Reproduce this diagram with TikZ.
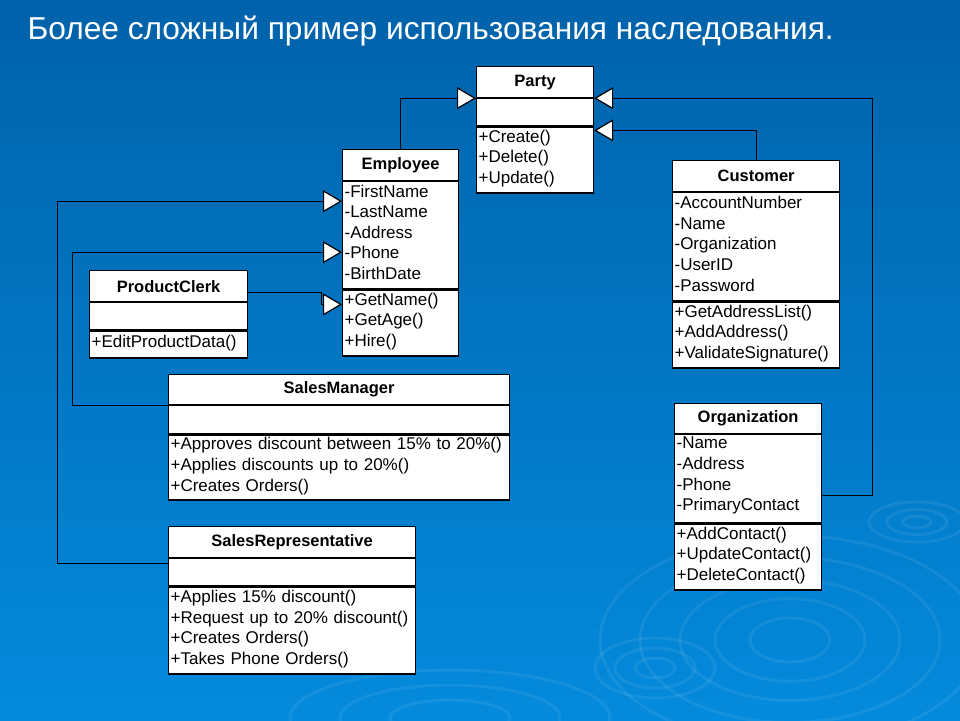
\documentclass[tikz,border=0pt]{standalone}
\usepackage{fontspec}
\setmainfont{Liberation Sans}
\usetikzlibrary{arrows.meta}
\definecolor{slidetop}{RGB}{0,98,170}
\definecolor{slidebot}{RGB}{4,138,220}
\begin{document}
\begin{tikzpicture}[x=1pt,y=-1pt,
    hd/.style={draw,fill=white,line width=1.2pt,anchor=north west,inner sep=0pt,
      minimum height=31pt,font=\bfseries\fontsize{16.5}{20.6}\selectfont},
    box/.style={draw,fill=white,line width=1.2pt,anchor=north west,align=left,
      inner xsep=2pt,inner ysep=0pt,font=\fontsize{17}{20.6}\selectfont},
    sec/.style={box,execute at end node={\endgraf\vspace{6pt}}},
    msec/.style={box,execute at end node={\endgraf\vspace{3pt}}},
    inh/.style={draw=black,line width=0.7pt,
      -{Triangle[length=19pt,width=22pt,fill=white,line width=1.2pt]}},
    ripple/.style={draw=white,opacity=0.07,line width=3pt}]
        \useasboundingbox (0,0) rectangle (960,720);
        \shade[top color=slidetop,bottom color=slidebot] (0,0) rectangle (960,720);

        % background ripples
        \foreach \r in {14,30,48} \draw[ripple] (917,522) ellipse ({\r} and {0.42*\r});
        \foreach \r in {40,75,110,150,190} \draw[ripple] (790,640) ellipse ({\r} and {0.55*\r});
        \foreach \r in {20,40,60} \draw[ripple] (655,668) ellipse ({\r} and {0.5*\r});
        \foreach \r in {60,110,160} \draw[ripple] (450,718) ellipse ({\r} and {0.3*\r});

        \node[anchor=base west,text=white,font=\fontsize{31.7}{36}\selectfont] (title) at (24,39)
          {Более сложный пример использования наследования.};

        % Party
        \node[hd,minimum width=117pt] (party-h) at (476,66) {Party};
        \node[box,text width=113pt,minimum height=27pt] (party-a) at (party-h.south west) {};
        \node[msec,text width=113pt,minimum height=66pt] (party-m) at (party-a.south west)
          {+Create()\\+Delete()\\+Update()};

        % Employee
        \node[hd,minimum width=116pt] (emp-h) at (342,149) {Employee};
        \node[sec,text width=112pt,minimum height=107pt] (emp-a) at (emp-h.south west)
          {-FirstName\\-LastName\\-Address\\-Phone\\-BirthDate};
        \node[msec,text width=112pt,minimum height=66pt] (emp-m) at (emp-a.south west)
          {+GetName()\\+GetAge()\\+Hire()};

        % Customer
        \node[hd,minimum width=167pt] (cust-h) at (672,160) {Customer};
        \node[sec,text width=163pt,minimum height=108pt] (cust-a) at (cust-h.south west)
          {-AccountNumber\\-Name\\-Organization\\-UserID\\-Password};
        \node[msec,text width=163pt,minimum height=66pt] (cust-m) at (cust-a.south west)
          {+GetAddressList()\\+AddAddress()\\+ValidateSignature()};

        % Organization
        \node[hd,minimum width=147pt,minimum height=30pt] (org-h) at (674,403) {Organization};
        \node[sec,text width=143pt,minimum height=88pt] (org-a) at (org-h.south west)
          {-Name\\-Address\\-Phone\\-PrimaryContact};
        \node[msec,text width=143pt,minimum height=66pt] (org-m) at (org-a.south west)
          {+AddContact()\\+UpdateContact()\\+DeleteContact()};

        % ProductClerk
        \node[hd,minimum width=158pt] (pc-h) at (89,270) {ProductClerk};
        \node[box,text width=154pt,minimum height=27pt] (pc-a) at (pc-h.south west) {};
        \node[msec,text width=154pt,minimum height=27pt] (pc-m) at (pc-a.south west)
          {+EditProductData()};

        % SalesManager
        \node[hd,minimum width=341pt,minimum height=30pt] (smgr-h) at (168,374) {SalesManager};
        \node[box,text width=337pt,minimum height=28pt] (smgr-a) at (smgr-h.south west) {};
        \node[msec,text width=337pt,minimum height=65pt] (smgr-m) at (smgr-a.south west)
          {+Approves discount between 15\% to 20\%()\\+Applies discounts up to 20\%()\\+Creates Orders()};

        % SalesRepresentative
        \node[hd,minimum width=247pt] (srep-h) at (168,526) {SalesRepresentative};
        \node[box,text width=243pt,minimum height=27pt] (srep-a) at (srep-h.south west) {};
        \node[msec,text width=243pt,minimum height=87pt] (srep-m) at (srep-a.south west)
          {+Applies 15\% discount()\\+Request up to 20\% discount()\\+Creates Orders()\\+Takes Phone Orders()};

        % inheritance
        \draw[inh] (emp-h.north) |- (party-h.south west);
        \draw[inh] (cust-h.north) |- ([yshift=-4pt]party-m.north east);
        \draw[inh] ([yshift=-17pt]org-a.east) -- ++(50,0) |- (party-h.south east);
        \draw[inh] ([yshift=-5pt]srep-h.south west) -- ++(-111,0) |- ([yshift=-20pt]emp-a.north west);
        \draw[inh] (smgr-h.south west) -- ++(-96,0) |- ([yshift=-71pt]emp-a.north west);
        \draw[inh] ([yshift=-22pt]pc-h.north east) -- ++(73,0) |- ([yshift=-15pt]emp-m.north west);
    \end{tikzpicture}
\end{document}
